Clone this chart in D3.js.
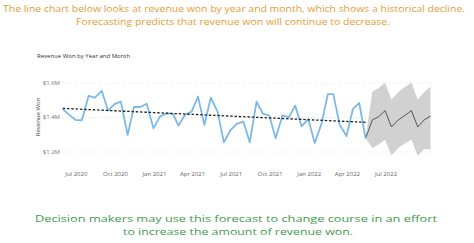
<!DOCTYPE html>
<html>
<head>
<meta charset="utf-8">
<script src="https://cdn.jsdelivr.net/npm/d3@7"></script>
<style>
	body { margin: 0; background: #fff; }
	svg { display: block; }
</style>
</head>
<body>
<svg id="chart" width="474" height="243"></svg>
<script>
var actualDates = ["2020-05-31","2020-06-15","2020-06-30","2020-07-15","2020-07-31","2020-08-15","2020-08-31","2020-09-15",
	"2020-09-30","2020-10-15","2020-10-31","2020-11-15","2020-11-30","2020-12-15","2020-12-31","2021-01-15",
	"2021-01-31","2021-02-15","2021-02-28","2021-03-15","2021-03-31","2021-04-15","2021-04-30","2021-05-15",
	"2021-05-31","2021-06-15","2021-06-30","2021-07-15","2021-07-31","2021-08-15","2021-08-31","2021-09-15",
	"2021-09-30","2021-10-15","2021-10-31","2021-11-15","2021-11-30","2021-12-15","2021-12-31","2022-01-15",
	"2022-01-31","2022-02-15","2022-02-28","2022-03-15","2022-03-31","2022-04-15","2022-04-30","2022-05-15"];

// revenue won, $M
var actualValues = [1.446,1.414,1.383,1.381,1.522,1.512,1.552,1.437,
	1.475,1.489,1.296,1.458,1.458,1.477,1.334,1.402,
	1.421,1.417,1.350,1.412,1.431,1.518,1.354,1.512,
	1.431,1.253,1.322,1.360,1.373,1.253,1.489,1.419,
	1.408,1.277,1.409,1.398,1.466,1.346,1.388,1.249,
	1.360,1.533,1.533,1.354,1.290,1.446,1.481,1.277];

var forecastDates = ["2022-05-15","2022-05-31","2022-06-15","2022-06-30","2022-07-15","2022-07-31",
	"2022-08-15","2022-08-31","2022-09-15","2022-09-30","2022-10-15"];
var forecastValues = [1.277,1.383,1.402,1.437,1.342,1.383,1.408,1.437,1.342,1.383,1.406];
var forecastUpper = [1.277,1.548,1.568,1.598,1.500,1.545,1.572,1.600,1.500,1.545,1.575];
var forecastLower = [1.277,1.220,1.240,1.268,1.178,1.220,1.245,1.270,1.175,1.215,1.212];

var trendDates = ["2020-05-31","2022-05-15"];
var trendValues = [1.450,1.369];

var yTicks = [1.2, 1.4, 1.6];
var xTicks = ["2020-07-01","2020-10-01","2021-01-01","2021-04-01","2021-07-01","2021-10-01","2022-01-01","2022-04-01","2022-07-01"];

var topText = ["The line chart below looks at revenue won by year and month, which shows a historical decline.",
	"Forecasting predicts that revenue won will continue to decrease."];
var bottomText = ["Decision makers may use this forecast to change course in an effort",
	"to increase the amount of revenue won."];

var parseDate = d3.timeParse("%Y-%m-%d"),
	monthFormat = d3.timeFormat("%b %Y"),
	font = "'Open Sans', 'DejaVu Sans', sans-serif";

var svg = d3.select("svg#chart");

var x = d3.scaleTime()
	.domain([parseDate("2020-05-31"), parseDate("2022-10-15")])
	.range([62.7, 430.5]);

var y = d3.scaleLinear()
	.domain([1.2, 1.6])
	.range([151.5, 82.5]);

var actual = actualDates.map(function(d, i) { return {date: parseDate(d), value: actualValues[i]}; }),
	forecast = forecastDates.map(function(d, i) {
		return {date: parseDate(d), value: forecastValues[i], hi: forecastUpper[i], lo: forecastLower[i]};
	}),
	trend = trendDates.map(function(d, i) { return {date: parseDate(d), value: trendValues[i]}; });

// annotation text
var topNote = svg.append("g")
	.attr("fill", "#e59d35")
	.style("font", "9.5px " + font);
topNote.append("text").attr("x", 3).attr("y", 12).attr("textLength", 462).attr("lengthAdjust", "spacingAndGlyphs").text(topText[0]);
topNote.append("text").attr("x", 76).attr("y", 25).attr("textLength", 314).attr("lengthAdjust", "spacingAndGlyphs").text(topText[1]);

var bottomNote = svg.append("g")
	.attr("fill", "#3f9b4c")
	.style("font", "9.5px " + font);
bottomNote.append("text").attr("x", 35).attr("y", 221.5).attr("textLength", 402).attr("lengthAdjust", "spacingAndGlyphs").text(bottomText[0]);
bottomNote.append("text").attr("x", 123).attr("y", 235).attr("textLength", 230).attr("lengthAdjust", "spacingAndGlyphs").text(bottomText[1]);

// chart title
svg.append("text")
	.attr("x", 37)
	.attr("y", 58)
	.attr("fill", "#333")
	.style("font", "6px " + font)
	.text("Revenue Won by Year and Month");

// gridlines + y axis labels
var yAxis = svg.append("g")
	.attr("transform", "translate(62,0)")
	.call(d3.axisLeft(y).tickValues(yTicks).tickSize(-372).tickFormat(function(d) { return "$" + d.toFixed(1) + "M"; }));
yAxis.select(".domain").remove();
yAxis.selectAll("line")
	.attr("stroke", "#e2e2e2")
	.attr("stroke-dasharray", "1,2");
yAxis.selectAll("text")
	.attr("x", -2)
	.attr("fill", "#777")
	.style("font", "6px " + font);

svg.append("text")
	.attr("transform", "translate(40,117) rotate(-90)")
	.attr("text-anchor", "middle")
	.attr("fill", "#444")
	.style("font", "6px " + font)
	.text("Revenue Won");

// x axis labels
var xAxis = svg.append("g")
	.attr("transform", "translate(0,169)")
	.call(d3.axisBottom(x).tickValues(xTicks.map(parseDate)).tickSize(0).tickFormat(monthFormat));
xAxis.select(".domain").remove();
xAxis.selectAll("text")
	.attr("fill", "#666")
	.style("font", "6px " + font);

// forecast confidence band
svg.append("path")
	.datum(forecast)
	.attr("fill", "#d1d1d1")
	.attr("d", d3.area()
		.x(function(d) { return x(d.date); })
		.y0(function(d) { return y(d.lo); })
		.y1(function(d) { return y(d.hi); }));

svg.append("path")
	.datum(forecast)
	.attr("fill", "none")
	.attr("stroke", "#555")
	.attr("stroke-width", 1)
	.attr("stroke-linejoin", "round")
	.attr("d", d3.line()
		.x(function(d) { return x(d.date); })
		.y(function(d) { return y(d.value); }));

var line = d3.line()
	.x(function(d) { return x(d.date); })
	.y(function(d) { return y(d.value); });

svg.append("path")
	.datum(actual)
	.attr("fill", "none")
	.attr("stroke", "#7cb9e8")
	.attr("stroke-width", 1.8)
	.attr("stroke-linejoin", "round")
	.attr("d", line);

svg.append("path")
	.datum(trend)
	.attr("fill", "none")
	.attr("stroke", "#222")
	.attr("stroke-width", 1.3)
	.attr("stroke-dasharray", "2.5,1.8")
	.attr("d", line);
</script>
</body>
</html>
